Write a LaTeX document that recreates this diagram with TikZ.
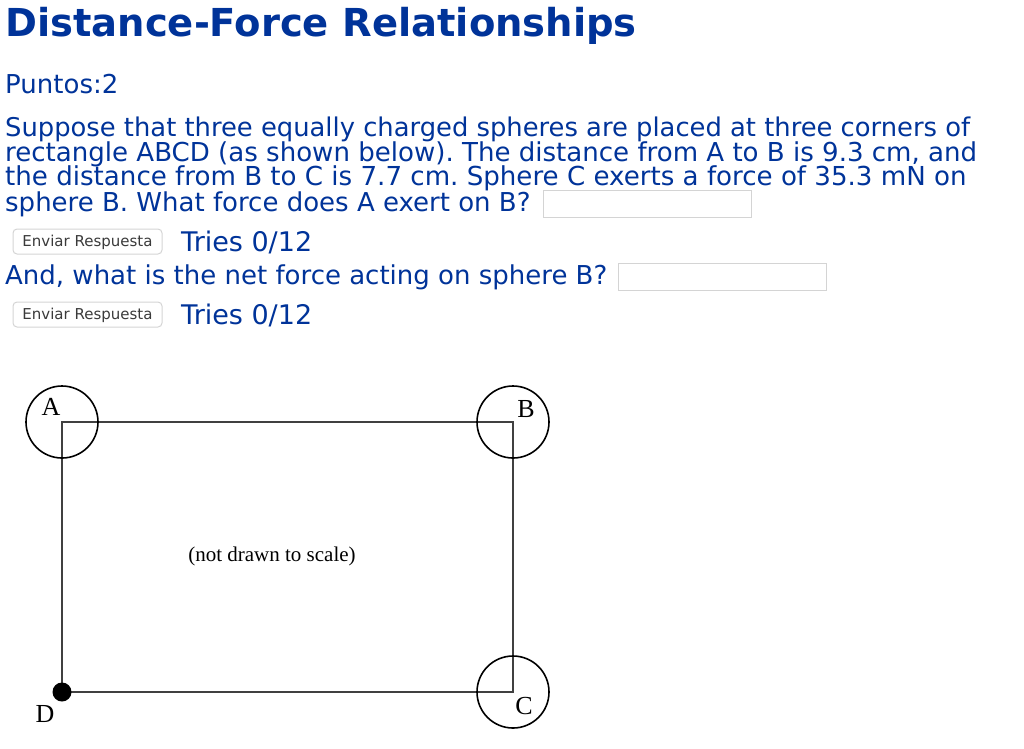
\documentclass[tikz,border=0pt]{standalone}
\usepackage{fontspec}
\setmainfont{DejaVu Sans}
\newfontfamily\figfont{Liberation Serif}
\usetikzlibrary{positioning,backgrounds}
\definecolor{textblue}{HTML}{003399}
\definecolor{boxgrey}{HTML}{D4D4D4}
\definecolor{btntext}{HTML}{3A3A3A}
\frenchspacing
\tikzset{
    txt/.style={anchor=base west,inner sep=0pt,text=textblue,font=\fontsize{26}{26}\selectfont},
    tries/.style={txt,font=\fontsize{27}{27}\selectfont},
    title/.style={anchor=base west,inner sep=0pt,text=textblue,font=\fontsize{38.5}{38.5}\selectfont\bfseries},
    answer/.style={draw=boxgrey,line width=0.8pt,minimum width=208pt,minimum height=27pt,inner sep=0pt},
    button/.style={draw=boxgrey,line width=1pt,rounded corners=4pt,minimum width=149pt,minimum height=25pt,inner sep=0pt,text height=12pt,text depth=2pt,text=btntext,font=\fontsize{15}{15}\selectfont},
    sphere/.style={circle,draw=black,line width=1.6pt,minimum size=72pt,inner sep=0pt},
    fixed/.style={circle,fill=black,minimum size=19pt,inner sep=0pt},
    figlabel/.style={inner sep=0pt,font=\figfont\fontsize{26}{26}\selectfont},
    edge/.style={draw=black!75,line width=1.3pt}
}
\begin{document}
\begin{tikzpicture}[x=1pt,y=-1pt]
    \useasboundingbox (0,0) rectangle (1024,748);
    \node[title] (heading) at (5,36) {Distance-Force Relationships};
    \node[txt] (puntos) at (5,93) {Puntos:2};
    \node[txt,font=\fontsize{25.8}{26}\selectfont] (lineone) at (5,136) {Suppose that three equally charged spheres are placed at three corners of};
    \node[txt,font=\fontsize{26.05}{26}\selectfont] (linetwo) at (5,161) {rectangle ABCD (as shown below). The distance from A to B is 9.3 cm, and};
    \node[txt,font=\fontsize{26.1}{26}\selectfont] (linethree) at (5,185) {the distance from B to C is 7.7 cm. Sphere C exerts a force of 35.3 mN on};
    \node[txt] (linefour) at (5,211) {sphere B. What force does A exert on B?};
    \node[answer] (answerone) at (647,203.5) {};
    \node[button] (sendone) at (87.5,241.5) {Enviar Respuesta};
    \node[tries] (triesone) at (181,251) {Tries 0/12};
    \node[txt] (linefive) at (5,284) {And, what is the net force acting on sphere B?};
    \node[answer] (answertwo) at (722,276.5) {};
    \node[button] (sendtwo) at (87.5,314.5) {Enviar Respuesta};
    \node[tries] (triestwo) at (181,324) {Tries 0/12};

    \node[sphere] (A) at (62,422) {};
    \node[sphere] (B) at (513,422) {};
    \node[sphere] (C) at (513,692) {};
    \node[fixed] (D) at (62,692) {};
    \begin{scope}[on background layer]
        \draw[edge] (A.center) -- (B.center) -- (C.center) -- (D.center) -- cycle;
    \end{scope}
    \node[figlabel] (labela) at (51,406.5) {A};
    \node[figlabel] (labelb) at (526,409) {B};
    \node[figlabel] (labelc) at (524,706) {C};
    \node[figlabel] (labeld) at (45,714) {D};
    \node[figlabel,font=\figfont\fontsize{21}{21}\selectfont] (scalenote) at (272,556) {(not drawn to scale)};
\end{tikzpicture}
\end{document}
